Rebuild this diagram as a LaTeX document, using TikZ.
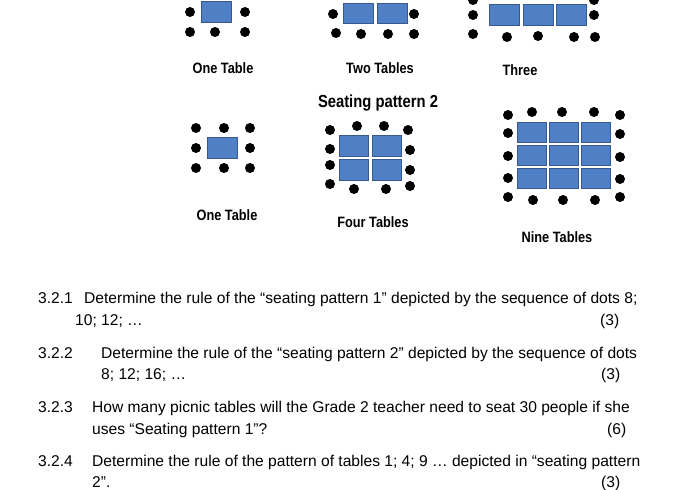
\documentclass[tikz,border=0pt]{standalone}
\usepackage{fontspec}
\setmainfont{Liberation Sans}
\begin{document}
\begin{tikzpicture}[x=1pt,y=-1pt,
  tbl/.style={draw=tblborder,fill=tblfill,line width=0.9pt},
  seat/.style={circle,fill=black,inner sep=0pt,minimum size=10pt},
  lbl/.style={font=\fontsize{15}{15}\selectfont\bfseries,xscale=0.85},
  qt/.style={anchor=base west,inner sep=0pt,font=\fontsize{15.6}{16}\selectfont}]
\definecolor{tblfill}{HTML}{4F7FC4}
\definecolor{tblborder}{HTML}{37598F}
\useasboundingbox (0,0) rectangle (700,489);
% pattern 1
\draw[tbl] (201,1) rectangle (231,22);
\foreach \x/\y in {190/12,245/12,190/32,215/32,245/32} \node[seat] at (\x,\y) {};
\node[lbl] (l1) at (223,68) {One Table};
\foreach \a in {343,377} \draw[tbl] (\a,3) rectangle ++(30,20);
\foreach \x/\y in {333/14,414/14,336/33,361/34,388/34,414/34} \node[seat] at (\x,\y) {};
\node[lbl] (l2) at (380,68) {Two Tables};
\foreach \a in {489,523,556} \draw[tbl] (\a,4) rectangle ++(30,21);
\foreach \x/\y in {473/0,594/0,473/15,594/15,473/34,507/37,538/36,574/37,595/37} \node[seat] at (\x,\y) {};
\node[lbl] (l3) at (520,70) {Three};
% pattern 2
\node[lbl,font=\fontsize{17.4}{17}\selectfont\bfseries] (h) at (378,103) {Seating pattern 2};
\draw[tbl] (207,137) rectangle (237,158);
\foreach \x/\y in {196/128,224/128,250/128,196/148,250/148,196/168,224/168,250/168} \node[seat] at (\x,\y) {};
\node[lbl] (l4) at (227,215) {One Table};
\foreach \a in {339,372} \foreach \b in {135,159} \draw[tbl] (\a,\b) rectangle ++(29,21);
\foreach \x/\y in {330/130,357/126,384/126,408/130,330/149,330/165,410/150,410/170,330/184,354/189,386/189,410/186} \node[seat] at (\x,\y) {};
\node[lbl] (l5) at (373,222) {Four Tables};
\foreach \a in {517,549,581} \foreach \b in {122,145,168} \draw[tbl] (\a,\b) rectangle ++(29,20);
\foreach \x/\y in {508/115,532/112,562/112,594/112,620/115,508/133,508/156,508/178,620/134,620/157,620/179,508/197,533/200,563/200,595/200,620/197} \node[seat] at (\x,\y) {};
\node[lbl] (l6) at (557,237) {Nine Tables};
% questions
\node[qt] (q1) at (38,303) {3.2.1};
\node[qt] (q1a) at (84,303) {Determine the rule of the “seating pattern 1” depicted by the sequence of dots 8;};
\node[qt] (q1b) at (75,325) {10; 12; …};
\node[qt] (m1) at (600,325) {(3)};
\node[qt] (q2) at (38,358) {3.2.2};
\node[qt] (q2a) at (101,358) {Determine the rule of the “seating pattern 2” depicted by the sequence of dots};
\node[qt] (q2b) at (101,379) {8; 12; 16; …};
\node[qt] (m2) at (601,379) {(3)};
\node[qt] (q3) at (38,412) {3.2.3};
\node[qt] (q3a) at (92,412) {How many picnic tables will the Grade 2 teacher need to seat 30 people if she};
\node[qt] (q3b) at (92,434) {uses “Seating pattern 1”?};
\node[qt] (m3) at (607,434) {(6)};
\node[qt] (q4) at (38,466) {3.2.4};
\node[qt] (q4a) at (92,466) {Determine the rule of the pattern of tables 1; 4; 9 … depicted in “seating pattern};
\node[qt] (q4b) at (92,487) {2”.};
\node[qt] (m4) at (601,487) {(3)};
\end{tikzpicture}
\end{document}
